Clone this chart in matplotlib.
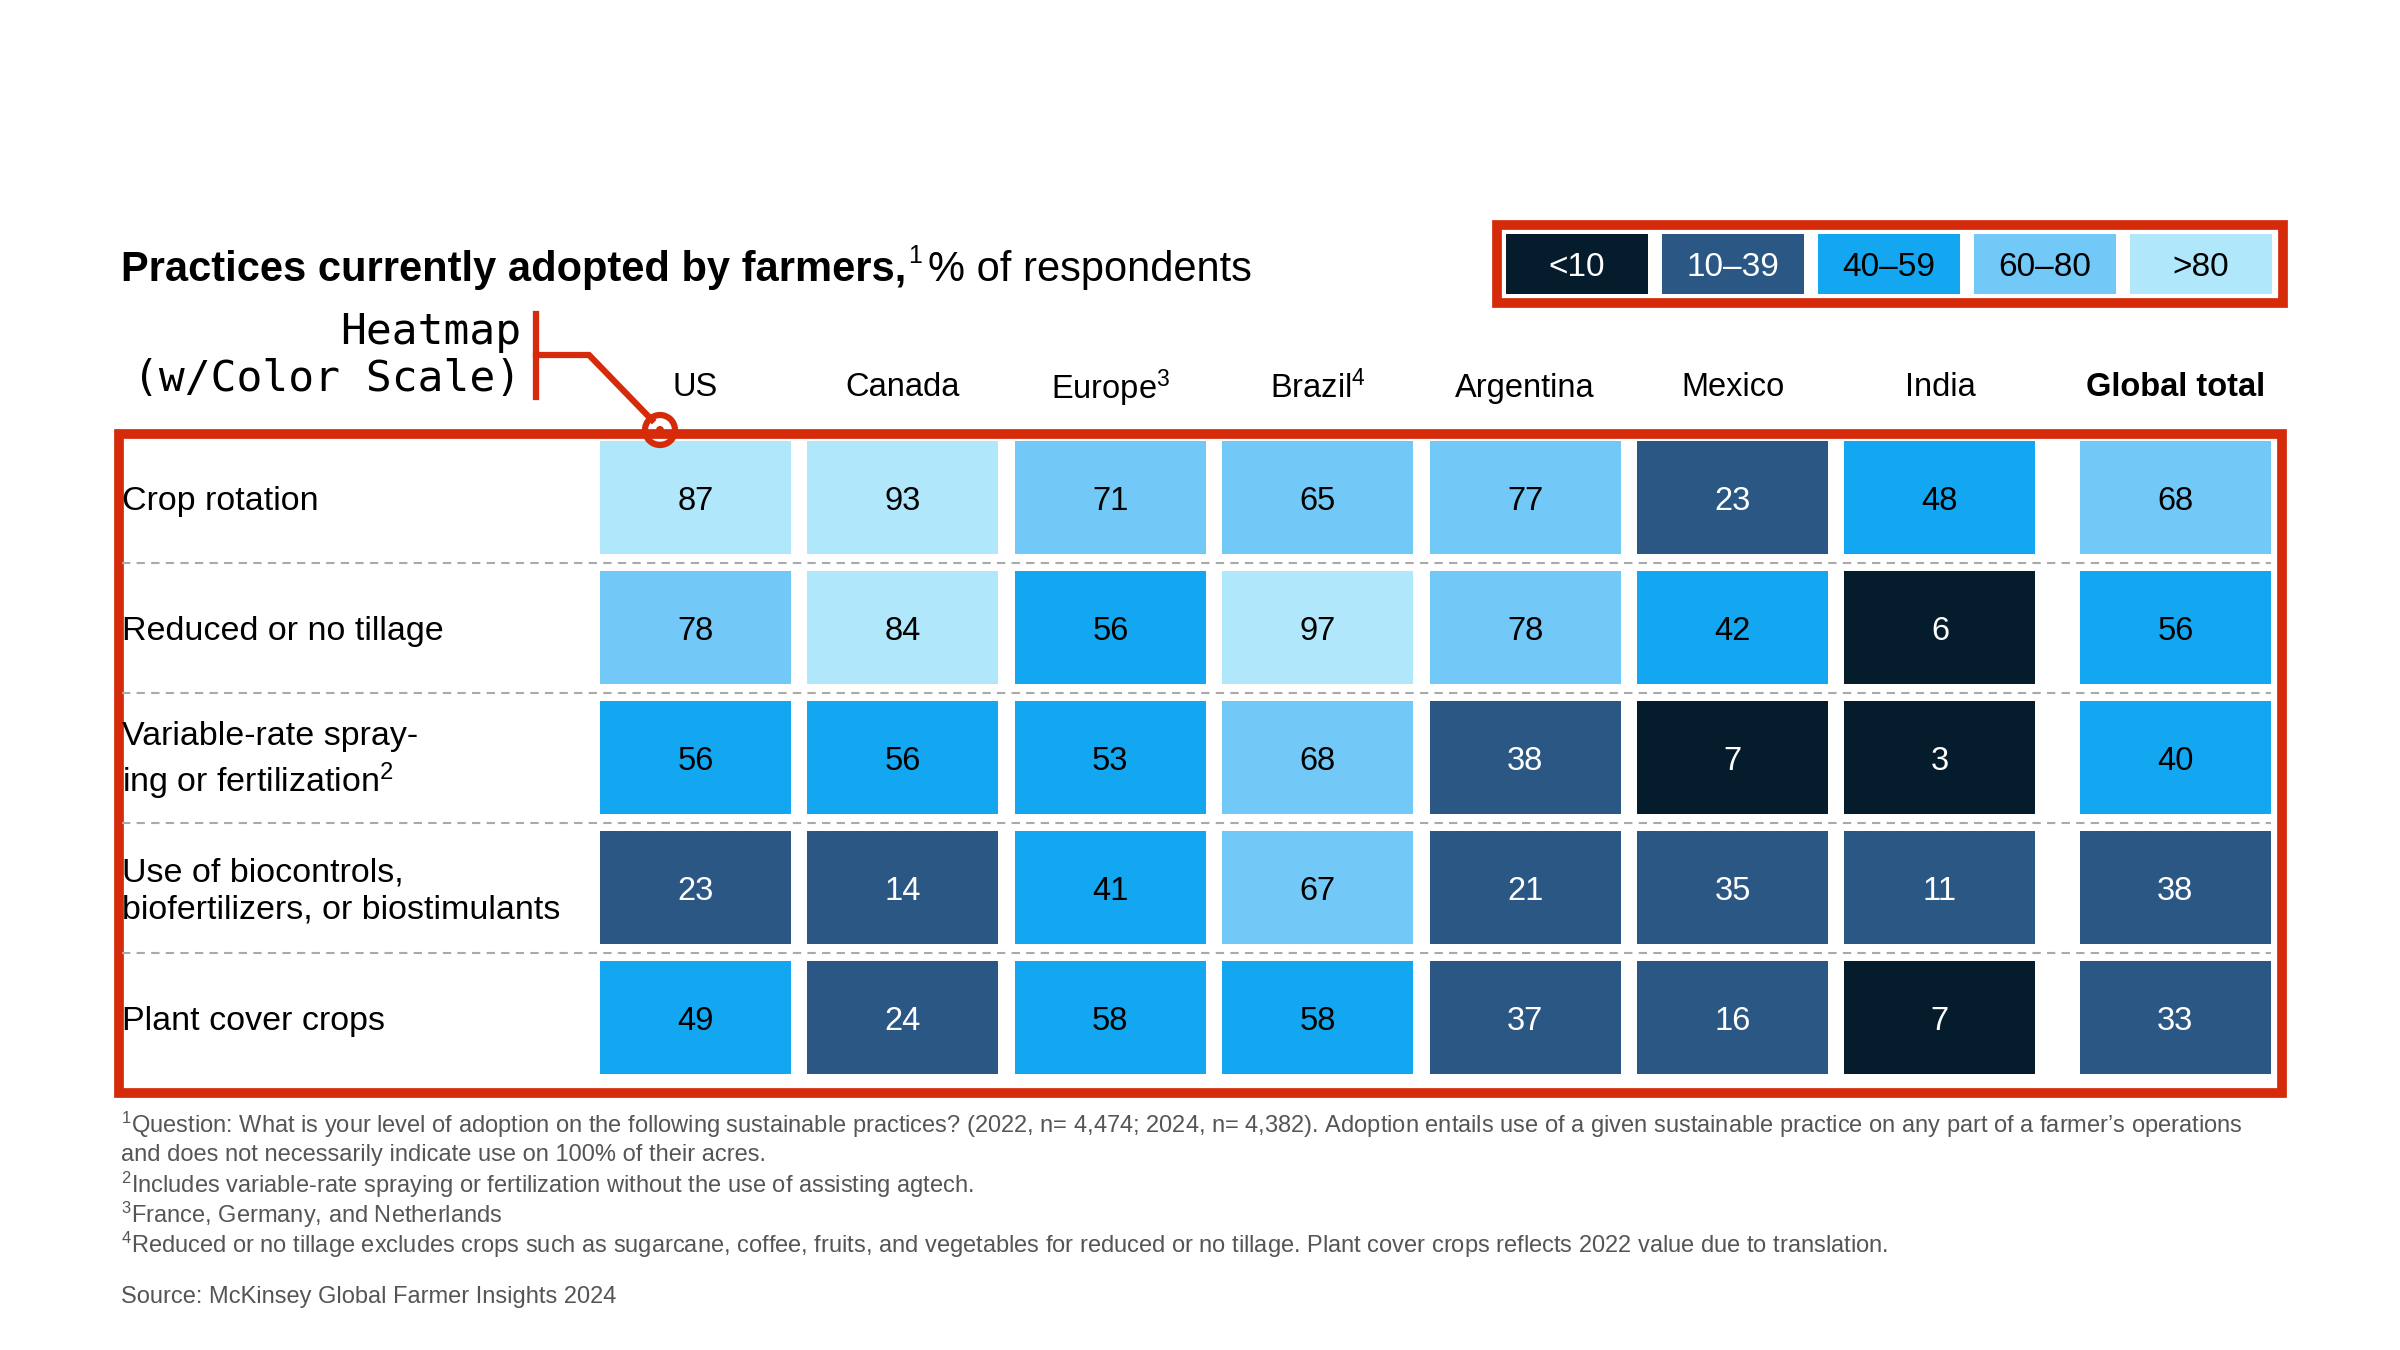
import matplotlib
matplotlib.use("Agg")
import matplotlib.pyplot as plt
from matplotlib.patches import Rectangle, Circle
from matplotlib.lines import Line2D
import numpy as np

# ---------------- data ----------------
countries = ["US", "Canada", "Europe$^{3}$", "Brazil$^{4}$", "Argentina", "Mexico", "India", "Global total"]
practices = ["Crop rotation", "Reduced or no tillage",
             "Variable-rate spray-\ning or fertilization$^{2}$",
             "Use of biocontrols,\nbiofertilizers, or biostimulants",
             "Plant cover crops"]
crop_rotation = [87, 93, 71, 65, 77, 23, 48, 68]
reduced_tillage = [78, 84, 56, 97, 78, 42, 6, 56]
variable_rate = [56, 56, 53, 68, 38, 7, 3, 40]
biocontrols = [23, 14, 41, 67, 21, 35, 11, 38]
cover_crops = [49, 24, 58, 58, 37, 16, 7, 33]
values = np.array([crop_rotation, reduced_tillage, variable_rate, biocontrols, cover_crops])

bin_labels = ["<10", "10–39", "40–59", "60–80", ">80"]
bin_edges = [10, 40, 60, 81]
bin_colors = ["#051c2c", "#2b5785", "#12a7f0", "#72c8f6", "#b0e7fa"]
bin_text = ["white", "white", "black", "black", "black"]

title_bold = "Practices currently adopted by farmers,"
title_rest = "% of respondents"
footnotes = [
    "$^{1}$Question: What is your level of adoption on the following sustainable practices? (2022, n= 4,474; 2024, n= 4,382). Adoption entails use of a given sustainable practice on any part of a farmer’s operations",
    "and does not necessarily indicate use on 100% of their acres.",
    "$^{2}$Includes variable-rate spraying or fertilization without the use of assisting agtech.",
    "$^{3}$France, Germany, and Netherlands",
    "$^{4}$Reduced or no tillage excludes crops such as sugarcane, coffee, fruits, and vegetables for reduced or no tillage. Plant cover crops reflects 2022 value due to translation.",
]
source = "Source: McKinsey Global Farmer Insights 2024"

# ---------------- style ----------------
FONT = "Liberation Sans"
plt.rcParams["font.family"] = [FONT, "DejaVu Sans"]
plt.rcParams["mathtext.fontset"] = "custom"
plt.rcParams["mathtext.rm"] = FONT
plt.rcParams["mathtext.it"] = FONT + ":italic"
plt.rcParams["mathtext.bf"] = FONT + ":bold"
RED = "#d52b0a"

fig = plt.figure(figsize=(24, 13.5), dpi=100)
ax = fig.add_axes([0, 0, 1, 1])
ax.set_xlim(0, 2400)
ax.set_ylim(1350, 0)
ax.axis("off")

# ---------------- layout ----------------
x0, col_pitch, cell_w, extra_gap = 600, 207.4, 191, 28
y0, row_pitch, cell_h = 441, 130.1, 113
left_x = 122
dy = 4  # text baseline nudge

def col_x(j):
    return x0 + j * col_pitch + (extra_gap if j == len(countries) - 1 else 0)

# title
fig.canvas.draw()
r = fig.canvas.get_renderer()
t1 = ax.text(121, 266 + dy, title_bold, fontsize=30, fontweight="bold", va="center", ha="left", color="black")
bb = t1.get_window_extent(r)
xe = ax.transData.inverted().transform((bb.x1, 0))[0]
ax.text(xe + 2, 252 + dy, "1", fontsize=18, va="center", ha="left", color="black")
ax.text(xe + 22, 266 + dy, title_rest, fontsize=30, va="center", ha="left", color="black")

# column headers
for j, c in enumerate(countries):
    ax.text(col_x(j) + cell_w / 2, 384 + dy, c, fontsize=23.5, ha="center", va="center",
            fontweight="bold" if j == len(countries) - 1 else "normal", color="black")

# cells
for i, row in enumerate(values):
    y = y0 + i * row_pitch
    for j, v in enumerate(row):
        b = int(np.digitize(v, bin_edges))
        ax.add_patch(Rectangle((col_x(j), y), cell_w, cell_h, facecolor=bin_colors[b], edgecolor="none"))
        ax.text(col_x(j) + cell_w / 2, y + cell_h / 2 + dy, str(v), fontsize=23.5, ha="center", va="center",
                color=bin_text[b])
    ax.text(left_x, y + cell_h / 2 + dy, practices[i], fontsize=24.5, ha="left", va="center",
            color="black", linespacing=1.25)
    if i > 0:
        yl = y - (row_pitch - cell_h) / 2
        ax.add_line(Line2D([left_x, col_x(len(countries) - 1) + cell_w], [yl, yl], color="#aaaaaa",
                           lw=1.5, linestyle=(0, (4, 3))))

# legend
lx0, lpitch, lw_, ly, lh = 1506, 156, 142, 234, 60
for k, lab in enumerate(bin_labels):
    ax.add_patch(Rectangle((lx0 + k * lpitch, ly), lw_, lh, facecolor=bin_colors[k], edgecolor="none"))
    ax.text(lx0 + k * lpitch + lw_ / 2, ly + lh / 2 + dy, lab, fontsize=24, ha="center", va="center",
            color=bin_text[k])
ax.add_patch(Rectangle((1497, 225), 786, 78, facecolor="none", edgecolor=RED, lw=7))

# big annotation box
ax.add_patch(Rectangle((119, 434), 2163, 659, facecolor="none", edgecolor=RED, lw=7))

# annotation
ax.text(521, 332, "Heatmap", family="DejaVu Sans Mono", fontsize=31, ha="right", va="center", color="black")
ax.text(521, 379, "(w/Color Scale)", family="DejaVu Sans Mono", fontsize=31, ha="right", va="center", color="black")
ax.add_line(Line2D([536, 536], [314, 397], color=RED, lw=4.5))
ax.add_line(Line2D([536, 589, 652], [355, 355, 420], color=RED, lw=4.5, solid_joinstyle="miter"))
ax.add_patch(Circle((660, 430), 15, facecolor="none", edgecolor=RED, lw=4.5))
ax.add_patch(Circle((660, 430), 4, facecolor=RED, edgecolor="none"))

# footnotes
fy = [1125, 1155, 1185, 1215, 1245]
for y, t in zip(fy, footnotes):
    ax.text(121, y, t, fontsize=17, ha="left", va="center", color="#555555")
ax.text(121, 1297, source, fontsize=17, ha="left", va="center", color="#555555")

fig.savefig("out.png", dpi=100, facecolor="white")
